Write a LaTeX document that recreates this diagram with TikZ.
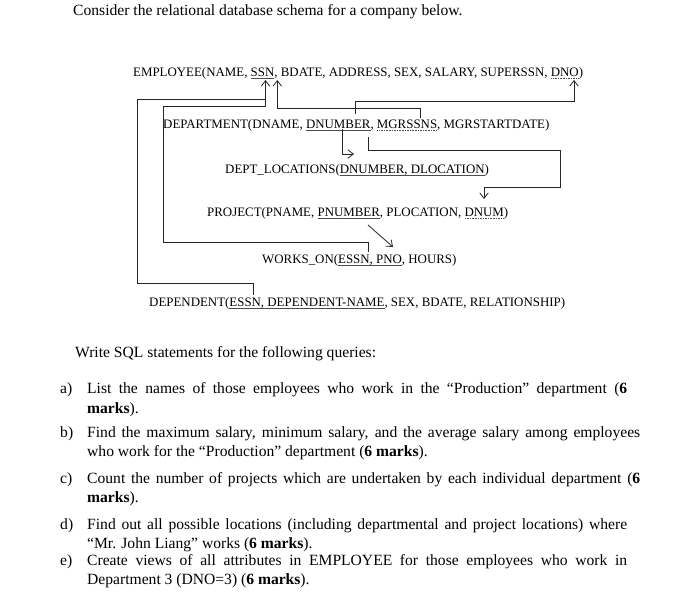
\documentclass[tikz,border=0pt]{standalone}
\usepackage{fontspec}
\setmainfont{Liberation Serif}
\usetikzlibrary{arrows.meta}
\newcommand\solidul[1]{\leavevmode\setbox0\hbox{#1}\rlap{\raisebox{-2.4pt}{\color{black!70}\rule{\wd0}{0.7pt}}}#1}
\newcommand\dotul[1]{\leavevmode\setbox0\hbox{#1}\rlap{\raisebox{-2.4pt}{\color{black!70}\hbox to \wd0{\xleaders\hbox to 1.6pt{\hss\rule{0.8pt}{0.7pt}\hss}\hfill}}}#1}
\tikzset{
  schema/.style={anchor=base west, inner sep=0pt, font=\fontsize{12.9}{15}\selectfont},
  body/.style={anchor=base west, inner sep=0pt, font=\fontsize{15.6}{19}\selectfont},
  conn/.style={line width=0.8pt, draw=black!85},
  tip/.style={-{Straight Barb[length=5.5pt,width=8.5pt,line width=0.8pt]}}
}
\begin{document}
\begin{tikzpicture}[x=1pt,y=-1pt]
\useasboundingbox (0,0) rectangle (700,605);
% heading
\node[body] (head) at (73,15) {Consider the relational database schema for a company below.};
% schema
\node[schema] (emp) at (133,76) {EMPLOYEE(NAME, \solidul{SSN}, BDATE, ADDRESS, SEX, SALARY, SUPERSSN, \dotul{DNO})};
\node[schema] (dept) at (163,128) {DEPARTMENT(DNAME, \solidul{DNUMBER}, \dotul{MGRSSNS}, MGRSTARTDATE)};
\node[schema] (dloc) at (225,173) {DEPT\_LOCATIONS(\solidul{DNUMBER, DLOCATION})};
\node[schema] (proj) at (207,216) {PROJECT(PNAME, \solidul{PNUMBER}, PLOCATION, \dotul{DNUM})};
\node[schema] (works) at (262,263) {WORKS\_ON(\solidul{ESSN, PNO}, HOURS)};
\node[schema] (depd) at (149,306) {DEPENDENT(\solidul{ESSN, DEPENDENT-NAME}, SEX, BDATE, RELATIONSHIP)};
% connector end points
\coordinate (ssnT1) at (265.5,80);
\coordinate (ssnT2) at (277.3,80);
\coordinate (dnoT) at (574,80);
\coordinate (depE) at (253,295);
\coordinate (woE) at (368,252);
\coordinate (mgrS) at (420,118);
\coordinate (dnumT) at (355,114);
\coordinate (dnumB) at (342.5,129);
\coordinate (dlT) at (354,154);
\coordinate (dnumB2) at (368,137);
\coordinate (dnumP) at (484,199);
\coordinate (pnumB) at (368,225);
\coordinate (pnoT) at (393,247);
% connectors
\draw[conn,tip] (depE) -- (253,283) -- (137,283) -- (137,99.5) -- (265.5,99.5) -- (ssnT1);
\draw[conn] (woE) -- (368,242.5) -- (163,242.5) -- (163,106.5) -- (265.5,106.5) -- (265.5,99.5);
\draw[conn,tip] (mgrS) -- (420,108.3) -- (277.3,108.3) -- (ssnT2);
\draw[conn,tip] (dnumT) -- (355,101) -- (574,101) -- (dnoT);
\draw[conn,tip] (dnumB) -- (342.5,154) -- (dlT);
\draw[conn,tip] (dnumB2) -- (368,150) -- (560,150) -- (560,187) -- (484,187) -- (dnumP);
\draw[conn,tip] (pnumB) -- (pnoT);
% questions
\node[body] (write) at (75,357) {Write SQL statements for the following queries:};
\node[body] (la) at (60,393) {a)};
\node[body] (qa1) at (87,393) {\makebox[540pt][s]{List the names of those employees who work in the “Production” department (\textbf{6}}};
\node[body] (qa2) at (87,413) {\textbf{marks}).};
\node[body] (lb) at (60,437) {b)};
\node[body] (qb1) at (87,437) {\makebox[553pt][s]{Find the maximum salary, minimum salary, and the average salary among employees}};
\node[body] (qb2) at (87,456) {who work for the “Production” department (\textbf{6 marks}).};
\node[body] (lc) at (60,483) {c)};
\node[body] (qc1) at (87,483) {\makebox[553pt][s]{Count the number of projects which are undertaken by each individual department (\textbf{6}}};
\node[body] (qc2) at (87,502) {\textbf{marks}).};
\node[body] (ld) at (60,529) {d)};
\node[body] (qd1) at (87,529) {\makebox[540pt][s]{Find out all possible locations (including departmental and project locations) where}};
\node[body] (qd2) at (87,548) {“Mr. John Liang” works (\textbf{6 marks}).};
\node[body] (le) at (60,565) {e)};
\node[body] (qe1) at (87,565) {\makebox[540pt][s]{Create views of all attributes in EMPLOYEE for those employees who work in}};
\node[body] (qe2) at (87,584) {Department 3 (DNO=3) (\textbf{6 marks}).};
\end{tikzpicture}
\end{document}
